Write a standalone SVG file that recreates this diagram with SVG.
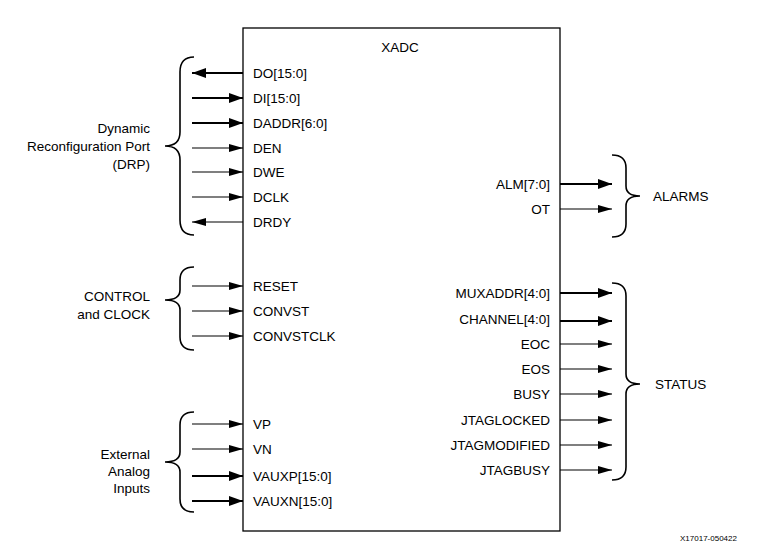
<svg xmlns="http://www.w3.org/2000/svg" width="768" height="549" viewBox="0 0 768 549">
<style>
text{font-family:"Liberation Sans",Arial,sans-serif;font-size:13.5px;fill:#000}
.s{stroke:#000;stroke-width:1.2;fill:none}
.b{stroke:#000;stroke-width:2.2;fill:none}
.br{stroke:#000;stroke-width:1.6;fill:none}
.r{text-anchor:end}.m{text-anchor:middle}
</style>
<defs>
<marker id="a" markerWidth="8" markerHeight="6" refX="8" refY="3" orient="auto" markerUnits="userSpaceOnUse"><path d="M0,0L14,3L0,6z" transform="scale(0.6,1)"/><path d="M0,0L8,3L0,6z"/></marker>
<marker id="ab" markerWidth="14" markerHeight="10" refX="14" refY="5" orient="auto" markerUnits="userSpaceOnUse"><path d="M0,0L14,5L0,10z"/></marker>
<marker id="at" markerWidth="14" markerHeight="8" refX="14" refY="4" orient="auto" markerUnits="userSpaceOnUse"><path d="M0,0L14,4L0,8z"/></marker>
</defs>
<rect width="768" height="549" fill="#fff"/>
<g id="xadc"><rect x="243" y="28" width="317" height="503" fill="#fff" stroke="#000" stroke-width="1.3"/><text x="400" y="52" class="m">XADC</text></g>
<g id="connectors">
<line x1="243" y1="73" x2="192" y2="73" class="b" marker-end="url(#ab)"/>
<line x1="192" y1="98" x2="243" y2="98" class="b" marker-end="url(#ab)"/>
<line x1="192" y1="123" x2="243" y2="123" class="b" marker-end="url(#ab)"/>
<line x1="192" y1="148" x2="243" y2="148" class="s" marker-end="url(#at)"/>
<line x1="192" y1="172" x2="243" y2="172" class="s" marker-end="url(#at)"/>
<line x1="192" y1="197" x2="243" y2="197" class="s" marker-end="url(#at)"/>
<line x1="243" y1="222" x2="192" y2="222" class="s" marker-end="url(#at)"/>
<line x1="192" y1="286" x2="243" y2="286" class="s" marker-end="url(#at)"/>
<line x1="192" y1="311" x2="243" y2="311" class="s" marker-end="url(#at)"/>
<line x1="192" y1="336" x2="243" y2="336" class="s" marker-end="url(#at)"/>
<line x1="192" y1="424" x2="243" y2="424" class="s" marker-end="url(#at)"/>
<line x1="192" y1="449" x2="243" y2="449" class="s" marker-end="url(#at)"/>
<line x1="192" y1="476" x2="243" y2="476" class="b" marker-end="url(#ab)"/>
<line x1="192" y1="501" x2="243" y2="501" class="b" marker-end="url(#ab)"/>
<line x1="560" y1="184" x2="612" y2="184" class="b" marker-end="url(#ab)"/>
<line x1="560" y1="209" x2="612" y2="209" class="s" marker-end="url(#at)"/>
<line x1="560" y1="293" x2="612" y2="293" class="b" marker-end="url(#ab)"/>
<line x1="560" y1="321" x2="612" y2="321" class="b" marker-end="url(#ab)"/>
<line x1="560" y1="344" x2="612" y2="344" class="s" marker-end="url(#at)"/>
<line x1="560" y1="369" x2="612" y2="369" class="s" marker-end="url(#at)"/>
<line x1="560" y1="394" x2="612" y2="394" class="s" marker-end="url(#at)"/>
<line x1="560" y1="420" x2="612" y2="420" class="s" marker-end="url(#at)"/>
<line x1="560" y1="445" x2="612" y2="445" class="s" marker-end="url(#at)"/>
<line x1="560" y1="470" x2="612" y2="470" class="s" marker-end="url(#at)"/>
</g>
<g id="braces">
<path class="br" d="M194,57 Q180,57 180,72 L180,132 Q180,146 165,146 Q180,146 180,160 L180,220 Q180,235 194,235"/>
<path class="br" d="M194,267 Q180,267 180,280 L180,290 Q180,300 165,300 Q180,300 180,310 L180,337 Q180,350 194,350"/>
<path class="br" d="M194,412 Q180,412 180,425 L180,452 Q180,462 165,462 Q180,462 180,472 L180,499 Q180,512 194,512"/>
<path class="br" d="M612,155 Q626,155 626,168 L626,186 Q626,196 640,196 Q626,196 626,206 L626,224 Q626,237 612,237"/>
<path class="br" d="M612,283 Q626,283 626,296 L626,374 Q626,384 640,384 Q626,384 626,394 L626,467 Q626,480 612,480"/>
</g>
<g id="labels">
<text x="253" y="78">DO[15:0]</text><text x="253" y="103">DI[15:0]</text><text x="253" y="128">DADDR[6:0]</text>
<text x="253" y="153">DEN</text><text x="253" y="177">DWE</text><text x="253" y="202">DCLK</text><text x="253" y="227">DRDY</text>
<text x="253" y="291">RESET</text><text x="253" y="316">CONVST</text><text x="253" y="341">CONVSTCLK</text>
<text x="253" y="429">VP</text><text x="253" y="454">VN</text><text x="253" y="481">VAUXP[15:0]</text><text x="253" y="506">VAUXN[15:0]</text>
<text x="550" y="189" class="r">ALM[7:0]</text><text x="550" y="214" class="r">OT</text>
<text x="550" y="298" class="r">MUXADDR[4:0]</text><text x="550" y="324" class="r">CHANNEL[4:0]</text>
<text x="550" y="349" class="r">EOC</text><text x="550" y="374" class="r">EOS</text><text x="550" y="399" class="r">BUSY</text>
<text x="550" y="425" class="r">JTAGLOCKED</text><text x="550" y="450" class="r">JTAGMODIFIED</text><text x="550" y="475" class="r">JTAGBUSY</text>
<text x="150" y="133" class="r">Dynamic</text><text x="150" y="151" class="r">Reconfiguration Port</text><text x="150" y="169" class="r">(DRP)</text>
<text x="150" y="301" class="r">CONTROL</text><text x="150" y="319" class="r">and CLOCK</text>
<text x="150" y="459" class="r">External</text><text x="150" y="476" class="r">Analog</text><text x="150" y="493" class="r">Inputs</text>
<text x="653" y="201">ALARMS</text><text x="655" y="389">STATUS</text>
<text x="680" y="541" style="font-size:8px">X17017-050422</text>
</g>
</svg>
